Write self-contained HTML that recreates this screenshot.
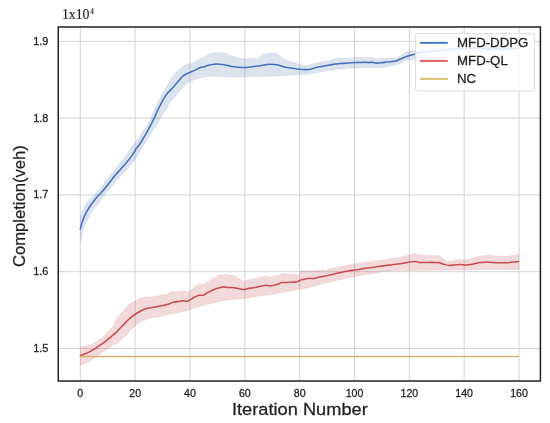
<!DOCTYPE html><html><head><meta charset="utf-8"><title>Completion vs Iteration</title><style>html,body{margin:0;padding:0;background:#fff;overflow:hidden;}svg{display:block;}text{font-family:"Liberation Sans",Arial,sans-serif;fill:#1e1e1e;stroke:#1e1e1e;stroke-width:0.25px;}</style></head><body>
<svg width="550" height="423" viewBox="0 0 550 423">
<rect width="550" height="423" fill="#fff"/>
<path d="M80.3 27 V381 M135.14 27 V381 M189.98 27 V381 M244.82 27 V381 M299.66 27 V381 M354.5 27 V381 M409.34 27 V381 M464.18 27 V381 M519.02 27 V381 M58.25 41.3 H540.4 M58.25 118.1 H540.4 M58.25 194.9 H540.4 M58.25 271.7 H540.4 M58.25 348.5 H540.4" stroke="#d4d4d4" stroke-width="1.0" fill="none"/>
<path d="M80.3 217.4 C81.02 215.58 82.92 209.55 84.6 206.5 C86.28 203.45 88.73 201.03 90.4 199.1 C92.07 197.17 92.52 197.2 94.6 194.9 C96.68 192.6 101.17 187.68 102.9 185.3 C104.63 182.92 103.78 182.25 105 180.6 C106.22 178.95 108.47 177.35 110.2 175.4 C111.93 173.45 113.67 171.07 115.4 168.9 C117.13 166.73 118.87 164.57 120.6 162.4 C122.33 160.23 124.07 158.5 125.8 155.9 C127.53 153.3 129.48 148.97 131 146.8 C132.52 144.63 133.28 145 134.9 142.9 C136.52 140.8 138.97 136.68 140.7 134.2 C142.43 131.72 143.77 130.32 145.3 128 C146.83 125.68 148.95 122.15 149.9 120.3 C150.85 118.45 150.27 118.73 151 116.9 C151.73 115.07 153.23 111.63 154.3 109.3 C155.37 106.97 156.35 105.03 157.4 102.9 C158.45 100.77 159.53 98.55 160.6 96.5 C161.67 94.45 162.73 92.38 163.8 90.6 C164.87 88.82 165.88 87.62 167 85.8 C168.12 83.98 169.12 81.82 170.5 79.7 C171.88 77.58 173.62 75 175.3 73.1 C176.98 71.2 179 69.63 180.6 68.3 C182.2 66.97 183.3 65.9 184.9 65.1 C186.5 64.3 188.43 64.09 190.2 63.51 C191.97 62.93 193.9 62.36 195.5 61.62 C197.1 60.88 198.32 59.87 199.8 59.09 C201.28 58.32 202.92 57.75 204.4 56.98 C205.88 56.2 207.07 55.2 208.7 54.45 C210.33 53.7 212.38 52.76 214.2 52.47 C216.02 52.18 217.78 52.51 219.6 52.7 C221.42 52.89 223.28 53.13 225.1 53.6 C226.92 54.07 228.68 54.95 230.5 55.5 C232.32 56.05 234.17 56.4 236 56.9 C237.83 57.4 239.68 58.15 241.5 58.5 C243.32 58.85 245.08 59.13 246.9 59 C248.72 58.87 251.05 57.78 252.4 57.7 C253.75 57.62 254.02 58.32 255 58.5 C255.98 58.68 257.22 59.35 258.3 58.8 C259.38 58.25 260.23 56.03 261.5 55.2 C262.77 54.37 264.43 54.17 265.9 53.8 C267.37 53.43 268.48 52.95 270.3 53 C272.12 53.05 274.98 53.45 276.8 54.1 C278.62 54.75 279.75 55.98 281.2 56.9 C282.65 57.82 283.87 58.78 285.5 59.6 C287.13 60.42 289.17 61.17 291 61.8 C292.83 62.43 294.68 62.87 296.5 63.4 C298.32 63.93 300.08 64.67 301.9 65 C303.72 65.33 305.77 65.52 307.4 65.4 C309.03 65.28 310.53 64.55 311.7 64.3 C312.87 64.05 313.23 64.23 314.4 63.9 C315.57 63.57 317.07 62.75 318.7 62.3 C320.33 61.85 322.38 61.47 324.2 61.2 C326.02 60.93 327.78 61.15 329.6 60.7 C331.42 60.25 333.28 58.97 335.1 58.5 C336.92 58.03 338.68 57.95 340.5 57.9 C342.32 57.85 344.17 58.2 346 58.2 C347.83 58.2 349.68 58.12 351.5 57.9 C353.32 57.68 355.08 56.98 356.9 56.9 C358.72 56.82 361.05 57.23 362.4 57.4 C363.75 57.57 363.3 57.88 365 57.9 C366.7 57.92 370.78 57.38 372.6 57.5 C374.42 57.62 374.43 58.45 375.9 58.6 C377.37 58.75 379.58 58.52 381.4 58.4 C383.22 58.28 384.98 57.93 386.8 57.9 C388.62 57.87 390.68 58.27 392.3 58.2 C393.92 58.13 395.05 57.97 396.5 57.5 C397.95 57.03 399.58 56.17 401 55.4 C402.42 54.63 403.73 53.53 405 52.9 C406.27 52.27 406.9 52 408.6 51.6 C410.3 51.2 411.57 50.98 415.2 50.5 C418.83 50.02 425.15 49.3 430.4 48.7 C435.65 48.1 442.17 47.38 446.7 46.9 C451.23 46.42 453.05 46.02 457.6 45.8 C462.15 45.58 468.3 45.58 474 45.6 C479.7 45.62 484.37 45.93 491.8 45.9 C499.23 45.87 514.13 45.48 518.6 45.4 L518.6 51.4 C514.13 51.47 499.23 51.8 491.8 51.8 C484.37 51.8 479.7 51.43 474 51.4 C468.3 51.37 462.15 51.38 457.6 51.6 C453.05 51.82 451.23 52.23 446.7 52.7 C442.17 53.17 435.65 53.33 430.4 54.4 C425.15 55.47 419.2 58.08 415.2 59.1 C411.2 60.12 408.77 59.87 406.4 60.5 C404.03 61.13 402.82 62.13 401 62.9 C399.18 63.67 397.87 64.47 395.5 65.1 C393.13 65.73 390.07 66.25 386.8 66.7 C383.53 67.15 379.07 67.7 375.9 67.8 C372.73 67.9 370.68 67.28 367.8 67.3 C364.92 67.32 361.95 67.72 358.6 67.9 C355.25 68.08 351.33 68.18 347.7 68.4 C344.07 68.62 339.52 68.92 336.8 69.2 C334.08 69.48 333.22 69.78 331.4 70.1 C329.58 70.42 327.72 70.75 325.9 71.1 C324.08 71.45 322.32 71.87 320.5 72.2 C318.68 72.53 316.83 72.82 315 73.1 C313.17 73.38 312.23 73.65 309.5 73.9 C306.77 74.15 302.23 74.37 298.6 74.6 C294.97 74.83 291.33 75.05 287.7 75.3 C284.07 75.55 280.43 75.92 276.8 76.1 C273.17 76.28 269.53 76.32 265.9 76.4 C262.27 76.48 258.72 76.48 255 76.6 C251.28 76.72 247.32 77.02 243.6 77.1 C239.88 77.18 236.33 77.18 232.7 77.1 C229.07 77.02 225.43 76.74 221.8 76.6 C218.17 76.46 213.2 76.32 210.9 76.26 C208.6 76.21 209.85 75.99 208 76.28 C206.15 76.57 202.58 77.21 199.8 78.01 C197.02 78.8 193.6 80 191.3 81.05 C189 82.1 187.85 82.71 186 84.3 C184.15 85.89 181.97 88.62 180.2 90.6 C178.43 92.58 177.02 94.37 175.4 96.2 C173.78 98.03 171.9 99.6 170.5 101.6 C169.1 103.6 168.12 106.38 167 108.2 C165.88 110.02 164.87 110.9 163.8 112.5 C162.73 114.1 161.83 115.5 160.6 117.8 C159.37 120.1 157.58 124.4 156.4 126.3 C155.22 128.2 154.58 127.75 153.5 129.2 C152.42 130.65 151.27 132.73 149.9 135 C148.53 137.27 146.83 140.23 145.3 142.8 C143.77 145.37 142.43 147.57 140.7 150.4 C138.97 153.23 136.52 157.37 134.9 159.8 C133.28 162.23 132.52 163.17 131 165 C129.48 166.83 127.53 168.97 125.8 170.8 C124.07 172.63 122.33 174.15 120.6 176 C118.87 177.85 117.13 179.83 115.4 181.9 C113.67 183.97 111.93 186.35 110.2 188.4 C108.47 190.45 106.22 192.58 105 194.2 C103.78 195.82 104.63 195.78 102.9 198.1 C101.17 200.42 96.68 205.33 94.6 208.1 C92.52 210.87 92.07 211.67 90.4 214.7 C88.73 217.73 86.28 221.73 84.6 226.3 C82.92 230.87 81.02 239.47 80.3 242.1 Z" fill="#4c72b0" fill-opacity="0.2" stroke="#4c72b0" stroke-opacity="0.12" stroke-width="0.8" stroke-linejoin="round"/>
<path d="M80.4 346.8 C81.18 346.7 83.53 346.5 85.1 346.2 C86.67 345.9 88.02 345.68 89.8 345 C91.58 344.32 93.82 343.28 95.8 342.1 C97.78 340.92 99.73 339.58 101.7 337.9 C103.67 336.22 105.63 334.07 107.6 332 C109.57 329.93 112.27 327.2 113.5 325.5 C114.73 323.8 114.03 323.48 115 321.8 C115.97 320.12 117.88 317.3 119.3 315.4 C120.72 313.5 122.08 312.07 123.5 310.4 C124.92 308.73 126.38 306.7 127.8 305.4 C129.22 304.1 130.58 303.43 132 302.6 C133.42 301.77 134.87 301.11 136.3 300.4 C137.73 299.69 138.93 298.87 140.6 298.32 C142.27 297.77 144.17 297.39 146.3 297.11 C148.43 296.83 151.12 296.95 153.4 296.65 C155.68 296.34 158.03 295.63 160 295.27 C161.97 294.9 163.68 294.82 165.2 294.44 C166.72 294.06 167.8 293.46 169.1 292.97 C170.4 292.48 171.7 291.66 173 291.5 C174.3 291.34 175.6 292.07 176.9 292 C178.2 291.93 179.5 291.25 180.8 291.1 C182.1 290.95 183.62 290.95 184.7 291.1 C185.78 291.25 186.22 292.22 187.3 292 C188.38 291.78 189.9 290.72 191.2 289.8 C192.5 288.88 193.8 287.43 195.1 286.5 C196.4 285.57 197.68 284.52 199 284.2 C200.32 283.88 201.68 284.87 203 284.6 C204.32 284.33 205.38 283.58 206.9 282.6 C208.42 281.62 210.37 279.73 212.1 278.7 C213.83 277.67 216.23 276.97 217.3 276.4 C218.37 275.83 217.5 275.67 218.5 275.3 C219.5 274.93 221.72 274.28 223.3 274.2 C224.88 274.12 226.43 274.62 228 274.8 C229.57 274.98 231.13 274.82 232.7 275.3 C234.27 275.78 236.02 277 237.4 277.7 C238.78 278.4 239.9 278.92 241 279.5 C242.1 280.08 243 281.1 244 281.2 C245 281.3 245.53 280.48 247 280.1 C248.47 279.72 250.65 279.35 252.8 278.9 C254.95 278.45 257.73 277.9 259.9 277.4 C262.07 276.9 264.28 275.93 265.8 275.9 C267.32 275.87 267.52 277.13 269 277.2 C270.48 277.27 272.57 276.9 274.7 276.3 C276.83 275.7 279.63 273.95 281.8 273.6 C283.97 273.25 285.73 274.07 287.7 274.2 C289.67 274.33 291.73 274.3 293.6 274.4 C295.47 274.5 297.72 275.38 298.9 274.8 C300.08 274.22 299.62 271.63 300.7 270.9 C301.78 270.17 303.63 270.43 305.4 270.4 C307.17 270.37 309.33 270.7 311.3 270.7 C313.27 270.7 315.23 270.57 317.2 270.4 C319.17 270.23 321.8 269.58 323.1 269.7 C324.4 269.82 323.7 271.27 325 271.1 C326.3 270.93 328.93 269.3 330.9 268.7 C332.87 268.1 334.83 267.9 336.8 267.5 C338.77 267.1 340.73 266.75 342.7 266.3 C344.67 265.85 346.63 265.18 348.6 264.8 C350.57 264.42 352.53 264.3 354.5 264 C356.47 263.7 358.43 263.32 360.4 263 C362.37 262.68 364.33 262.4 366.3 262.1 C368.27 261.8 370.23 261.43 372.2 261.2 C374.17 260.97 375.88 260.97 378.1 260.7 C380.32 260.43 383.37 259.97 385.5 259.6 C387.63 259.23 389.08 258.82 390.9 258.5 C392.72 258.18 394.58 257.97 396.4 257.7 C398.22 257.43 399.98 257.27 401.8 256.9 C403.62 256.53 405.48 255.97 407.3 255.5 C409.12 255.03 411.25 254.38 412.7 254.1 C414.15 253.82 414.9 253.7 416 253.8 C417.1 253.9 418.03 254.47 419.3 254.7 C420.57 254.93 421.97 255.07 423.6 255.2 C425.23 255.33 427.28 255.4 429.1 255.5 C430.92 255.6 432.78 255.75 434.5 255.8 C436.22 255.85 437.87 255.27 439.4 255.8 C440.93 256.33 442.07 258 443.7 259 C445.33 260 447.38 261.62 449.2 261.8 C451.02 261.98 452.78 260.47 454.6 260.1 C456.42 259.73 458.28 259.68 460.1 259.6 C461.92 259.52 463.68 259.73 465.5 259.6 C467.32 259.47 469.17 259.25 471 258.8 C472.83 258.35 474.92 257.32 476.5 256.9 C478.08 256.48 478.93 256.58 480.5 256.3 C482.07 256.02 484.08 255.33 485.9 255.2 C487.72 255.07 489.58 255.37 491.4 255.5 C493.22 255.63 494.98 255.87 496.8 256 C498.62 256.13 500.48 256.3 502.3 256.3 C504.12 256.3 505.88 256.13 507.7 256 C509.52 255.87 511.38 255.82 513.2 255.5 C515.02 255.18 517.7 254.33 518.6 254.1 L518.6 269.8 C513.83 269.75 497.6 269.5 490 269.5 C482.4 269.5 478.9 269.73 473 269.8 C467.1 269.87 460.1 269.83 454.6 269.9 C449.1 269.97 445.17 270.13 440 270.2 C434.83 270.27 428.15 270.23 423.6 270.3 C419.05 270.37 416.33 270.55 412.7 270.6 C409.07 270.65 405.43 270.52 401.8 270.6 C398.17 270.68 393.7 270.95 390.9 271.1 C388.1 271.25 388.12 271.07 385 271.5 C381.88 271.93 376.3 273.05 372.2 273.7 C368.1 274.35 364.33 274.72 360.4 275.4 C356.47 276.08 352.53 277 348.6 277.8 C344.67 278.6 340.73 279.32 336.8 280.2 C332.87 281.08 328.27 282.23 325 283.1 C321.73 283.97 320.47 284.55 317.2 285.4 C313.93 286.25 308.35 287.5 305.4 288.2 C302.45 288.9 301.47 289.17 299.5 289.6 C297.53 290.03 296.55 290.32 293.6 290.8 C290.65 291.28 284.9 291.95 281.8 292.5 C278.7 293.05 277.28 293.7 275 294.1 C272.72 294.5 271.22 294.48 268.1 294.9 C264.98 295.32 260.23 296.02 256.3 296.6 C252.37 297.18 247.45 298 244.5 298.4 C241.55 298.8 241.55 298.7 238.6 299 C235.65 299.3 229.9 299.8 226.8 300.2 C223.7 300.6 222.02 300.98 220 301.4 C217.98 301.82 216.88 302.17 214.7 302.7 C212.52 303.23 209.52 303.95 206.9 304.6 C204.28 305.25 201.62 305.83 199 306.6 C196.38 307.37 193.8 308.4 191.2 309.2 C188.6 310 186 310.75 183.4 311.4 C180.8 312.05 178.2 312.59 175.6 313.1 C173 313.61 170.4 313.87 167.8 314.47 C165.2 315.08 162.4 316.24 160 316.73 C157.6 317.23 155.68 316.94 153.4 317.45 C151.12 317.96 148.43 319.02 146.3 319.79 C144.17 320.56 142.27 321.21 140.6 322.08 C138.93 322.95 137.73 323.81 136.3 325 C134.87 326.19 133.65 327.55 132 329.2 C130.35 330.85 128.28 333.12 126.4 334.9 C124.52 336.68 122.6 338.25 120.7 339.9 C118.8 341.55 116.2 344 115 344.8 C113.8 345.6 114.73 344.03 113.5 344.7 C112.27 345.37 109.57 347.42 107.6 348.8 C105.63 350.18 103.67 351.62 101.7 353 C99.73 354.38 97.78 355.82 95.8 357.1 C93.82 358.38 91.58 359.62 89.8 360.7 C88.02 361.78 86.67 362.72 85.1 363.6 C83.53 364.48 81.18 365.6 80.4 366 Z" fill="#c44e52" fill-opacity="0.21" stroke="#c44e52" stroke-opacity="0.12" stroke-width="0.8" stroke-linejoin="round"/>
<path d="M80.3 228.9 C80.75 227.38 82 222.57 83 219.8 C84 217.03 85.07 214.65 86.3 212.3 C87.53 209.95 89.02 207.77 90.4 205.7 C91.78 203.63 93.22 201.65 94.6 199.9 C95.98 198.15 97.32 196.73 98.7 195.2 C100.08 193.67 101.52 192.27 102.9 190.7 C104.28 189.13 105.78 187.32 107 185.8 C108.22 184.28 108.8 183.38 110.2 181.6 C111.6 179.82 113.67 177.17 115.4 175.1 C117.13 173.03 118.87 171.15 120.6 169.2 C122.33 167.25 124.07 165.45 125.8 163.4 C127.53 161.35 129.48 158.97 131 156.9 C132.52 154.83 134.05 152.35 134.9 151 C135.75 149.65 135.13 150.18 136.1 148.8 C137.07 147.42 139.17 145.03 140.7 142.7 C142.23 140.37 143.77 137.48 145.3 134.8 C146.83 132.12 148.85 128.52 149.9 126.6 C150.95 124.68 150.87 124.77 151.6 123.3 C152.33 121.83 153.33 119.87 154.3 117.8 C155.27 115.73 156.35 113.12 157.4 110.9 C158.45 108.68 159.53 106.55 160.6 104.5 C161.67 102.45 162.73 100.38 163.8 98.6 C164.87 96.82 165.97 95.13 167 93.8 C168.03 92.47 168.78 91.92 170 90.6 C171.22 89.28 172.88 87.48 174.3 85.9 C175.72 84.32 177.08 82.7 178.5 81.1 C179.92 79.5 181.55 77.47 182.8 76.3 C184.05 75.13 184.77 74.78 186 74.1 C187.23 73.42 188.78 72.82 190.2 72.2 C191.62 71.58 192.9 71.13 194.5 70.4 C196.1 69.67 198.15 68.42 199.8 67.8 C201.45 67.18 202.92 67.12 204.4 66.7 C205.88 66.28 207.07 65.72 208.7 65.3 C210.33 64.88 212.38 64.38 214.2 64.2 C216.02 64.02 217.78 64.08 219.6 64.2 C221.42 64.32 223.28 64.57 225.1 64.9 C226.92 65.23 228.68 65.83 230.5 66.2 C232.32 66.57 234.17 66.88 236 67.1 C237.83 67.32 239.68 67.43 241.5 67.5 C243.32 67.57 245.08 67.63 246.9 67.5 C248.72 67.37 249.97 67.02 252.4 66.7 C254.83 66.38 259.25 65.93 261.5 65.6 C263.75 65.27 264.43 64.93 265.9 64.7 C267.37 64.47 268.48 64.2 270.3 64.2 C272.12 64.2 274.98 64.4 276.8 64.7 C278.62 65 279.75 65.57 281.2 66 C282.65 66.43 283.87 66.95 285.5 67.3 C287.13 67.65 289.17 67.83 291 68.1 C292.83 68.37 294.68 68.67 296.5 68.9 C298.32 69.13 300.08 69.38 301.9 69.5 C303.72 69.62 305.77 69.7 307.4 69.6 C309.03 69.5 310.53 69.15 311.7 68.9 C312.87 68.65 313.23 68.4 314.4 68.1 C315.57 67.8 317.07 67.45 318.7 67.1 C320.33 66.75 322.38 66.33 324.2 66 C326.02 65.67 327.78 65.43 329.6 65.1 C331.42 64.77 333.28 64.25 335.1 64 C336.92 63.75 338.68 63.73 340.5 63.6 C342.32 63.47 344.17 63.35 346 63.2 C347.83 63.05 349.68 62.83 351.5 62.7 C353.32 62.57 355.08 62.43 356.9 62.4 C358.72 62.37 361.05 62.52 362.4 62.5 C363.75 62.48 363.83 62.3 365 62.3 C366.17 62.3 368.13 62.5 369.4 62.5 C370.67 62.5 371.52 62.2 372.6 62.3 C373.68 62.4 374.43 63.02 375.9 63.1 C377.37 63.18 379.58 62.97 381.4 62.8 C383.22 62.63 384.98 62.32 386.8 62.1 C388.62 61.88 390.75 61.68 392.3 61.5 C393.85 61.32 394.83 61.38 396.1 61 C397.37 60.62 398.53 59.8 399.9 59.2 C401.27 58.6 402.85 57.98 404.3 57.4 C405.75 56.82 407.33 56.1 408.6 55.7 C409.87 55.3 410.8 55.27 411.9 55 C413 54.73 414.3 54.45 415.2 54.1 C416.1 53.75 414.77 53.33 417.3 52.9 C419.83 52.47 425.5 52.02 430.4 51.5 C435.3 50.98 442.17 50.27 446.7 49.8 C451.23 49.33 453.05 48.92 457.6 48.7 C462.15 48.48 468.3 48.47 474 48.5 C479.7 48.53 487.02 48.83 491.8 48.9 C496.58 48.97 498.23 48.98 502.7 48.9 C507.17 48.82 515.95 48.48 518.6 48.4" stroke="#4570bb" stroke-width="1.55" fill="none" stroke-linejoin="round" stroke-linecap="round"/>
<path d="M80.4 355.5 C80.98 355.3 82.72 354.73 83.9 354.3 C85.08 353.87 86.32 353.45 87.5 352.9 C88.68 352.35 89.82 351.65 91 351 C92.18 350.35 93.42 349.73 94.6 349 C95.78 348.27 96.92 347.4 98.1 346.6 C99.28 345.8 100.52 345.03 101.7 344.2 C102.88 343.37 104.02 342.52 105.2 341.6 C106.38 340.68 107.62 339.68 108.8 338.7 C109.98 337.72 111.12 336.72 112.3 335.7 C113.48 334.68 114.73 333.72 115.9 332.6 C117.07 331.48 118.03 330.33 119.3 329 C120.57 327.67 122.08 326.07 123.5 324.6 C124.92 323.13 126.38 321.53 127.8 320.2 C129.22 318.87 130.58 317.72 132 316.6 C133.42 315.48 134.87 314.43 136.3 313.5 C137.73 312.57 139.18 311.73 140.6 311 C142.02 310.27 143.38 309.6 144.8 309.1 C146.22 308.6 147.67 308.3 149.1 308 C150.53 307.7 151.98 307.53 153.4 307.3 C154.82 307.07 155.95 306.88 157.6 306.6 C159.25 306.32 162.03 305.85 163.3 305.6 C164.57 305.35 164.02 305.47 165.2 305.1 C166.38 304.73 168.88 303.9 170.4 303.4 C171.92 302.9 172.78 302.43 174.3 302.1 C175.82 301.77 177.98 301.62 179.5 301.4 C181.02 301.18 182.1 300.83 183.4 300.8 C184.7 300.77 186 301.48 187.3 301.2 C188.6 300.92 189.9 299.82 191.2 299.1 C192.5 298.38 193.8 297.53 195.1 296.9 C196.4 296.27 197.68 295.57 199 295.3 C200.32 295.03 201.68 295.68 203 295.3 C204.32 294.92 205.38 293.82 206.9 293 C208.42 292.18 210.58 291.12 212.1 290.4 C213.62 289.68 214.93 289.1 216 288.7 C217.07 288.3 217.28 288.3 218.5 288 C219.72 287.7 221.72 287 223.3 286.9 C224.88 286.8 226.43 287.3 228 287.4 C229.57 287.5 231.13 287.35 232.7 287.5 C234.27 287.65 236.02 288.03 237.4 288.3 C238.78 288.57 239.82 288.9 241 289.1 C242.18 289.3 243.32 289.58 244.5 289.5 C245.68 289.42 246.72 288.88 248.1 288.6 C249.48 288.32 251.23 288.08 252.8 287.8 C254.37 287.52 255.93 287.2 257.5 286.9 C259.07 286.6 260.82 286.28 262.2 286 C263.58 285.72 264.62 285.2 265.8 285.2 C266.98 285.2 267.82 286 269.3 286 C270.78 286 273.2 285.53 274.7 285.2 C276.2 284.87 277.12 284.45 278.3 284 C279.48 283.55 280.43 282.75 281.8 282.5 C283.17 282.25 284.92 282.57 286.5 282.5 C288.08 282.43 289.72 282.17 291.3 282.1 C292.88 282.03 294.83 282.23 296 282.1 C297.17 281.97 297.42 281.68 298.3 281.3 C299.18 280.92 300.12 280.2 301.3 279.8 C302.48 279.4 303.92 279.15 305.4 278.9 C306.88 278.65 308.82 278.35 310.2 278.3 C311.58 278.25 312.33 278.78 313.7 278.6 C315.07 278.42 316.63 277.6 318.4 277.2 C320.17 276.8 322.22 276.6 324.3 276.2 C326.38 275.8 328.82 275.28 330.9 274.8 C332.98 274.32 334.83 273.78 336.8 273.3 C338.77 272.82 340.73 272.3 342.7 271.9 C344.67 271.5 346.63 271.2 348.6 270.9 C350.57 270.6 352.53 270.37 354.5 270.1 C356.47 269.83 358.43 269.63 360.4 269.3 C362.37 268.97 364.33 268.42 366.3 268.1 C368.27 267.78 370.23 267.65 372.2 267.4 C374.17 267.15 375.88 266.9 378.1 266.6 C380.32 266.3 383.37 265.88 385.5 265.6 C387.63 265.32 389.08 265.13 390.9 264.9 C392.72 264.67 394.58 264.43 396.4 264.2 C398.22 263.97 399.98 263.8 401.8 263.5 C403.62 263.2 405.48 262.68 407.3 262.4 C409.12 262.12 411.25 261.93 412.7 261.8 C414.15 261.67 414.9 261.5 416 261.6 C417.1 261.7 418.03 262.27 419.3 262.4 C420.57 262.53 421.97 262.4 423.6 262.4 C425.23 262.4 427.28 262.4 429.1 262.4 C430.92 262.4 432.78 262.35 434.5 262.4 C436.22 262.45 437.87 262.4 439.4 262.7 C440.93 263 442.07 263.75 443.7 264.2 C445.33 264.65 447.38 265.28 449.2 265.4 C451.02 265.52 452.78 265.05 454.6 264.9 C456.42 264.75 458.28 264.5 460.1 264.5 C461.92 264.5 463.68 264.9 465.5 264.9 C467.32 264.9 469.35 264.73 471 264.5 C472.65 264.27 473.77 263.82 475.4 263.5 C477.03 263.18 478.98 262.83 480.8 262.6 C482.62 262.37 484.53 262.13 486.3 262.1 C488.07 262.07 489.65 262.3 491.4 262.4 C493.15 262.5 494.98 262.65 496.8 262.7 C498.62 262.75 500.48 262.7 502.3 262.7 C504.12 262.7 505.88 262.8 507.7 262.7 C509.52 262.6 511.38 262.28 513.2 262.1 C515.02 261.92 517.7 261.68 518.6 261.6" stroke="#c94c51" stroke-width="1.55" fill="none" stroke-linejoin="round" stroke-linecap="round"/>
<path d="M80.3 356.4 H519" stroke="#d9b468" stroke-width="1.5" fill="none"/>
<rect x="58.25" y="27" width="482.15" height="354" fill="none" stroke="#222" stroke-width="1.5"/>
<text transform="translate(48.3 44.7) scale(1.07 1)" font-size="10.2" text-anchor="end">1.9</text>
<text transform="translate(48.3 121.5) scale(1.07 1)" font-size="10.2" text-anchor="end">1.8</text>
<text transform="translate(48.3 198.3) scale(1.07 1)" font-size="10.2" text-anchor="end">1.7</text>
<text transform="translate(48.3 275.1) scale(1.07 1)" font-size="10.2" text-anchor="end">1.6</text>
<text transform="translate(48.3 351.9) scale(1.07 1)" font-size="10.2" text-anchor="end">1.5</text>
<text transform="translate(80.3 397.3) scale(1.04 1)" font-size="10.2" text-anchor="middle">0</text>
<text transform="translate(135.14 397.3) scale(1.04 1)" font-size="10.2" text-anchor="middle">20</text>
<text transform="translate(189.98 397.3) scale(1.04 1)" font-size="10.2" text-anchor="middle">40</text>
<text transform="translate(244.82 397.3) scale(1.04 1)" font-size="10.2" text-anchor="middle">60</text>
<text transform="translate(299.66 397.3) scale(1.04 1)" font-size="10.2" text-anchor="middle">80</text>
<text transform="translate(354.5 397.3) scale(1.04 1)" font-size="10.2" text-anchor="middle">100</text>
<text transform="translate(409.34 397.3) scale(1.04 1)" font-size="10.2" text-anchor="middle">120</text>
<text transform="translate(464.18 397.3) scale(1.04 1)" font-size="10.2" text-anchor="middle">140</text>
<text transform="translate(519.02 397.3) scale(1.04 1)" font-size="10.2" text-anchor="middle">160</text>
<text transform="translate(299.85 414.8) scale(1.06 1)" font-size="17.2" text-anchor="middle">Iteration Number</text>
<text transform="translate(25.1 206.1) rotate(-90) scale(0.967 1)" font-size="17.2" text-anchor="middle">Completion(veh)</text>
<text x="61.9" y="19.4" font-size="13.8" fill="#151515" style="font-family:'Liberation Serif',serif;stroke-width:0.15px">1x10<tspan x="90.3" y="13.8" font-size="7.2">4</tspan></text>
<rect x="415.6" y="33.6" width="118.8" height="57.3" rx="1.5" ry="1.5" fill="#fff" fill-opacity="0.86" stroke="#dcdcdc" stroke-width="1"/>
<path d="M420 42.9 H447.8" stroke="#4a7fc8" stroke-width="2"/>
<text transform="translate(457 47) scale(1.02 1)" font-size="13">MFD-DDPG</text>
<path d="M420 60.9 H447.8" stroke="#dc625f" stroke-width="2"/>
<text transform="translate(457 65) scale(1.02 1)" font-size="13">MFD-QL</text>
<path d="M420 78.9 H447.8" stroke="#dbbf78" stroke-width="2"/>
<text transform="translate(457 83) scale(1.02 1)" font-size="13">NC</text>
</svg></body></html>
